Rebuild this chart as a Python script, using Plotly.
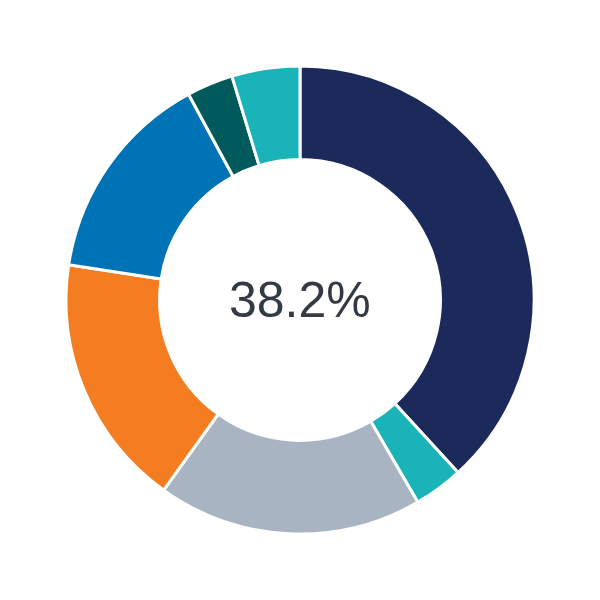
import plotly.graph_objects as go

labels = ["A", "B", "C", "D", "E", "F", "G"]
values = [38.2, 3.4, 18.3, 17.5, 14.7, 3.2, 4.7]
colors = ["#1b2a5a", "#1ab3b8", "#a9b4c2", "#f37d20", "#0073b7", "#005a5b", "#1ab3b8"]
center_text = "38.2%"

fig = go.Figure(go.Pie(
    labels=labels, values=values, hole=0.6, sort=False, direction="clockwise",
    rotation=0, textinfo="none", hoverinfo="none",
    marker=dict(colors=colors, line=dict(color="white", width=3)),
))
fig.update_layout(
    width=600, height=600, showlegend=False,
    margin=dict(l=58, r=74, t=58, b=74),
    paper_bgcolor="white",
    annotations=[dict(text=center_text, x=0.5, y=0.5, xref="paper", yref="paper",
                      showarrow=False, font=dict(size=50, color="#343a45", family="Liberation Sans"))],
)
fig.write_html("out.html")
